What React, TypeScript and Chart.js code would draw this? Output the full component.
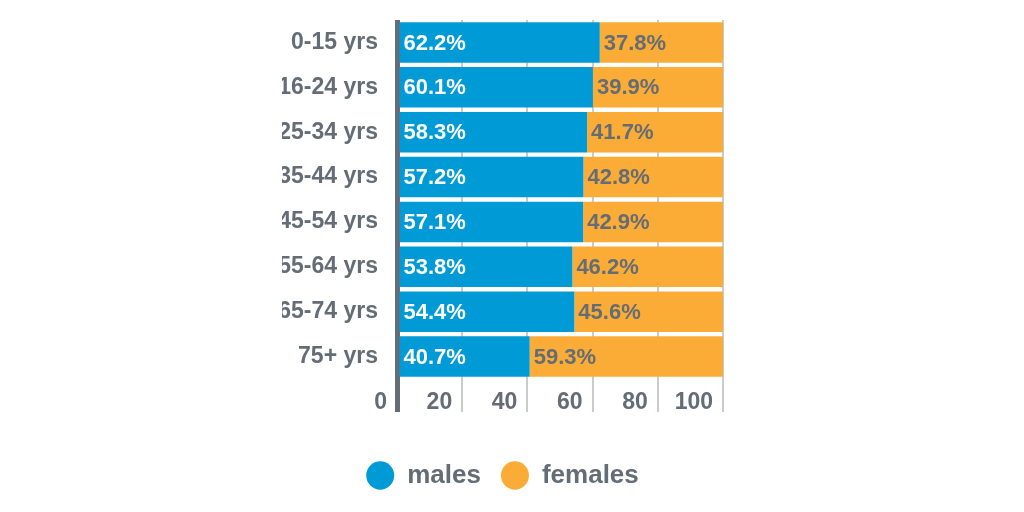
import React, { useEffect, useRef } from 'react';
import { Chart, registerables } from 'chart.js';

Chart.register(...registerables);

// age groups and male / female shares (%)
const ageGroups = ['0-15 yrs', '16-24 yrs', '25-34 yrs', '35-44 yrs', '45-54 yrs', '55-64 yrs', '65-74 yrs', '75+ yrs'];
const malesShare = [62.2, 60.1, 58.3, 57.2, 57.1, 53.8, 54.4, 40.7];
const femalesShare = [37.8, 39.9, 41.7, 42.8, 42.9, 46.2, 45.6, 59.3];
const seriesNames = ['males', 'females'];

const BLUE = '#009bd7';
const ORANGE = '#fbac37';
const GREY = '#646c75';
const FONT = "'Liberation Sans', Arial, sans-serif";

// writes the percentage at the start of each bar segment,
// and the x tick labels just left of their grid lines
const barLabels = {
  id: 'barLabels',
  afterDatasetsDraw(chart: any) {
    const ctx = chart.ctx;
    ctx.save();
    ctx.font = `bold 22px ${FONT}`;
    ctx.textAlign = 'left';
    ctx.textBaseline = 'middle';
    chart.data.datasets.forEach((ds: any, i: number) => {
      const meta = chart.getDatasetMeta(i);
      ctx.fillStyle = i === 0 ? '#ffffff' : GREY;
      meta.data.forEach((bar: any, j: number) => {
        const left = Math.min(bar.base, bar.x);
        ctx.fillText(ds.data[j].toFixed(1) + '%', left + 4, bar.y + 1);
      });
    });

    const xScale = chart.scales.x;
    ctx.font = `bold 23px ${FONT}`;
    ctx.textAlign = 'right';
    ctx.fillStyle = GREY;
    xScale.ticks.forEach((t: any) => {
      ctx.fillText(String(t.value), xScale.getPixelForValue(t.value) - 10, chart.chartArea.bottom + 24);
    });
    ctx.restore();
  },
};

export default function App() {
  const canvasRef = useRef<HTMLCanvasElement>(null);

  useEffect(() => {
    if (!canvasRef.current) return;
    const chart = new Chart(canvasRef.current, {
      type: 'bar',
      data: {
        labels: ageGroups,
        datasets: [
          { label: seriesNames[0], data: malesShare, backgroundColor: BLUE, barPercentage: 0.9, categoryPercentage: 1 },
          { label: seriesNames[1], data: femalesShare, backgroundColor: ORANGE, barPercentage: 0.9, categoryPercentage: 1 },
        ],
      },
      options: {
        indexAxis: 'y',
        animation: false,
        responsive: true,
        maintainAspectRatio: false,
        layout: { padding: { top: 20, right: 3, bottom: 13.5, left: 0 } },
        plugins: {
          tooltip: { enabled: false },
          legend: {
            position: 'bottom',
            labels: {
              usePointStyle: true,
              pointStyle: 'circle',
              boxWidth: 28,
              boxHeight: 20,
              pointStyleWidth: 28,
              padding: 20,
              color: GREY,
              font: { family: FONT, size: 26, weight: 'bold' },
            },
          },
        },
        scales: {
          x: {
            stacked: true,
            min: 0,
            max: 100,
            border: { display: false },
            grid: {
              color: (c: any) => (c.tick && c.tick.value === 0 ? GREY : '#c9cbcd'),
              lineWidth: (c: any) => (c.tick && c.tick.value === 0 ? 5 : 2),
              tickLength: 33,
            },
            afterFit: (scale: any) => {
              scale.height = 63.5;
            },
            ticks: {
              stepSize: 20,
              display: false,
            },
          },
          y: {
            stacked: true,
            border: { display: false },
            grid: { display: false, drawTicks: true, tickLength: 19 },
            afterFit: (scale: any) => {
              scale.width = 115;
            },
            ticks: {
              padding: 0,
              color: GREY,
              font: { family: FONT, size: 23, weight: 'bold' },
            },
          },
        },
      },
      plugins: [barLabels],
    });
    return () => chart.destroy();
  }, []);

  return (
    <div style={{ position: 'absolute', left: 282, top: 0, width: 444, height: 512 }}>
      <canvas ref={canvasRef} />
    </div>
  );
}
